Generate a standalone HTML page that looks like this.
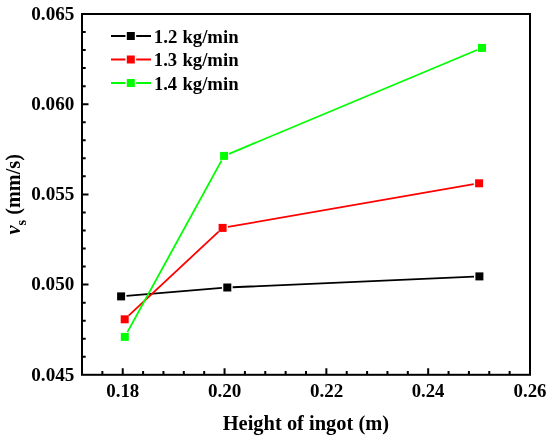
<!DOCTYPE html>
<html><head><meta charset="utf-8"><style>
html,body{margin:0;padding:0;background:#fff;width:550px;height:440px;overflow:hidden}
svg{display:block}
text{font-family:"Liberation Serif","Times New Roman",serif;font-weight:bold;fill:#000}
</style></head><body>
<svg width="550" height="440" viewBox="0 0 550 440">
<rect x="82" y="14" width="448" height="360.8" fill="none" stroke="#000" stroke-width="2"/>
<path d="M102.36 374.80V371.10M122.73 374.80V368.30M143.09 374.80V371.10M163.45 374.80V371.10M183.82 374.80V371.10M204.18 374.80V371.10M224.55 374.80V368.30M244.91 374.80V371.10M265.27 374.80V371.10M285.64 374.80V371.10M306.00 374.80V371.10M326.36 374.80V368.30M346.73 374.80V371.10M367.09 374.80V371.10M387.45 374.80V371.10M407.82 374.80V371.10M428.18 374.80V368.30M448.55 374.80V371.10M468.91 374.80V371.10M489.27 374.80V371.10M509.64 374.80V371.10M82.00 356.76H85.70M82.00 338.72H85.70M82.00 320.68H85.70M82.00 302.64H85.70M82.00 284.60H88.50M82.00 266.56H85.70M82.00 248.52H85.70M82.00 230.48H85.70M82.00 212.44H85.70M82.00 194.40H88.50M82.00 176.36H85.70M82.00 158.32H85.70M82.00 140.28H85.70M82.00 122.24H85.70M82.00 104.20H88.50M82.00 86.16H85.70M82.00 68.12H85.70M82.00 50.08H85.70M82.00 32.04H85.70" stroke="#000" stroke-width="2" fill="none"/>
<path d="M126.48 295.95L221.92 287.95M232.69 287.26L474.01 276.64" stroke="#000000" stroke-width="1.8" fill="none"/>
<path d="M128.65 315.61L218.65 231.59M227.92 226.97L473.78 184.23" stroke="#ff0000" stroke-width="1.8" fill="none"/>
<path d="M127.40 332.17L221.50 160.63M229.08 153.81L477.02 49.99" stroke="#00ff00" stroke-width="1.8" fill="none"/>
<rect x="117.10" y="292.40" width="8" height="8" fill="#000000"/>
<rect x="223.30" y="283.50" width="8" height="8" fill="#000000"/>
<rect x="475.40" y="272.40" width="8" height="8" fill="#000000"/>
<rect x="120.70" y="315.30" width="8" height="8" fill="#ff0000"/>
<rect x="218.60" y="223.90" width="8" height="8" fill="#ff0000"/>
<rect x="475.10" y="179.30" width="8" height="8" fill="#ff0000"/>
<rect x="120.80" y="332.90" width="8" height="8" fill="#00ff00"/>
<rect x="220.10" y="151.90" width="8" height="8" fill="#00ff00"/>
<rect x="478.00" y="43.90" width="8" height="8" fill="#00ff00"/>
<path d="M111 36H125.40M136.20 36H151" stroke="#000000" stroke-width="1.8"/>
<rect x="126.80000000000001" y="32.0" width="8" height="8" fill="#000000"/>
<path d="M111 59.5H125.40M136.20 59.5H151" stroke="#ff0000" stroke-width="1.8"/>
<rect x="126.80000000000001" y="55.5" width="8" height="8" fill="#ff0000"/>
<path d="M111 83H125.40M136.20 83H151" stroke="#00ff00" stroke-width="1.8"/>
<rect x="126.80000000000001" y="79.0" width="8" height="8" fill="#00ff00"/>
<text transform="translate(31.262,381.000) scale(1.0209,1.0000)" font-size="18.8">0.045</text>
<text transform="translate(31.263,290.000) scale(1.0190,1.0000)" font-size="18.8">0.050</text>
<text transform="translate(31.262,200.000) scale(1.0209,1.0000)" font-size="18.8">0.055</text>
<text transform="translate(31.263,110.000) scale(1.0190,1.0000)" font-size="18.8">0.060</text>
<text transform="translate(31.262,20.000) scale(1.0209,1.0000)" font-size="18.8">0.065</text>
<text transform="translate(106.165,397.000) scale(1.0094,1.0000)" font-size="18.8">0.18</text>
<text transform="translate(207.934,397.000) scale(1.0165,1.0000)" font-size="18.8">0.20</text>
<text transform="translate(309.948,397.000) scale(1.0130,1.0000)" font-size="18.8">0.22</text>
<text transform="translate(411.727,397.000) scale(0.9946,1.0000)" font-size="18.8">0.24</text>
<text transform="translate(513.471,397.000) scale(1.0053,1.0000)" font-size="18.8">0.26</text>
<text transform="translate(153.845,42.600) scale(1.0481,1.0000)" font-size="18">1.2</text>
<text transform="translate(182.385,42.600) scale(1.0413,1.0000)" font-size="18">kg/min</text>
<text transform="translate(153.870,66.200) scale(1.0342,1.0000)" font-size="18">1.3</text>
<text transform="translate(182.385,66.200) scale(1.0413,1.0000)" font-size="18">kg/min</text>
<text transform="translate(153.935,89.800) scale(1.0230,1.0000)" font-size="18">1.4</text>
<text transform="translate(182.385,89.800) scale(1.0413,1.0000)" font-size="18">kg/min</text>
<text transform="translate(222.713,430.300) scale(1.0225,1.0000)" font-size="20">Height of ingot (m)</text>
<text transform="translate(19.900,234.400) rotate(-90) scale(1.0130,1.0000)" font-size="20"><tspan font-style="italic">v</tspan><tspan font-size="14" dy="5.6">s</tspan><tspan dy="-5.6"> (mm/s)</tspan></text>
</svg>
</body></html>
